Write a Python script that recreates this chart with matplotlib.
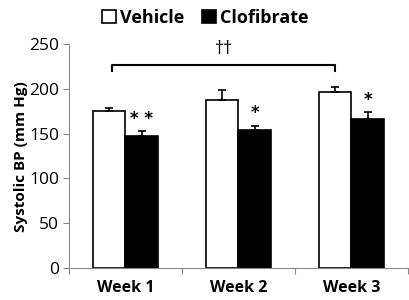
import numpy as np
import matplotlib
matplotlib.use('Agg')
import matplotlib.pyplot as plt

# datos
weeks = ['Week 1', 'Week 2', 'Week 3']
vehicle = [176, 188, 197]
vehicle_err = [3, 11, 5]
clofibrate = [148, 154, 167]
clofibrate_err = [5, 5, 7]
stars = ['* *', '*', '*']

plt.rcParams['font.family'] = ['Open Sans', 'DejaVu Sans']

fig = plt.figure(figsize=(4.1, 3.0), dpi=100)
ax = fig.add_axes([0.168, 0.107, 0.827, 0.745])

x = np.arange(len(weeks))
w = 0.29
ax.bar(x - w/2, vehicle, w, color='white', edgecolor='black', linewidth=1.2,
       yerr=[np.zeros(3), vehicle_err], capsize=3,
       error_kw=dict(elinewidth=1.2, capthick=1.2), label='Vehicle')
ax.bar(x + w/2, clofibrate, w, color='black', edgecolor='black', linewidth=1.2,
       yerr=[np.zeros(3), clofibrate_err], capsize=3,
       error_kw=dict(elinewidth=1.2, capthick=1.2), label='Clofibrate')

# asteriscos
for i in range(3):
    ax.text(x[i] + w/2, clofibrate[i] + clofibrate_err[i] + 4, stars[i],
            ha='center', va='bottom', fontsize=12, fontweight='bold',
            family='DejaVu Sans')

# corchete entre semana 1 y semana 3
bx0 = x[0] - w/2 + 0.03
bx1 = x[2] - w/2
ax.plot([bx0, bx0, bx1, bx1], [220, 227, 227, 220], color='black', linewidth=1.5)
ax.text((bx0 + bx1) / 2, 235, '††', ha='center', va='bottom', fontsize=13)

ax.set_xlim(-0.5, 2.5)
ax.set_ylim(0, 250)
ax.set_yticks([0, 50, 100, 150, 200, 250])
ax.set_xticks([-0.5, 0.5, 1.5, 2.5])
ax.set_xticklabels([])
ax.set_xticks(x, minor=True)
ax.set_xticklabels(weeks, minor=True, fontsize=11.5, fontweight='bold')
ax.tick_params(axis='x', which='minor', length=0, pad=9)
ax.tick_params(axis='x', which='major', length=4, color='#888888')
ax.tick_params(axis='y', length=4, color='#888888', labelsize=12.5, pad=3)
for s in ['top', 'right']:
    ax.spines[s].set_visible(False)
for s in ['left', 'bottom']:
    ax.spines[s].set_color('#888888')
ax.set_ylabel('Systolic BP (mm Hg)', fontsize=11, fontweight='bold', labelpad=1)

fig.legend(loc='upper center', bbox_to_anchor=(0.5, 1.025), ncol=2, frameon=False,
           handlelength=0.8, handleheight=0.8, handletextpad=0.2, columnspacing=1.0,
           prop=dict(size=13, weight='bold'))

fig.savefig('out.png', dpi=100)
